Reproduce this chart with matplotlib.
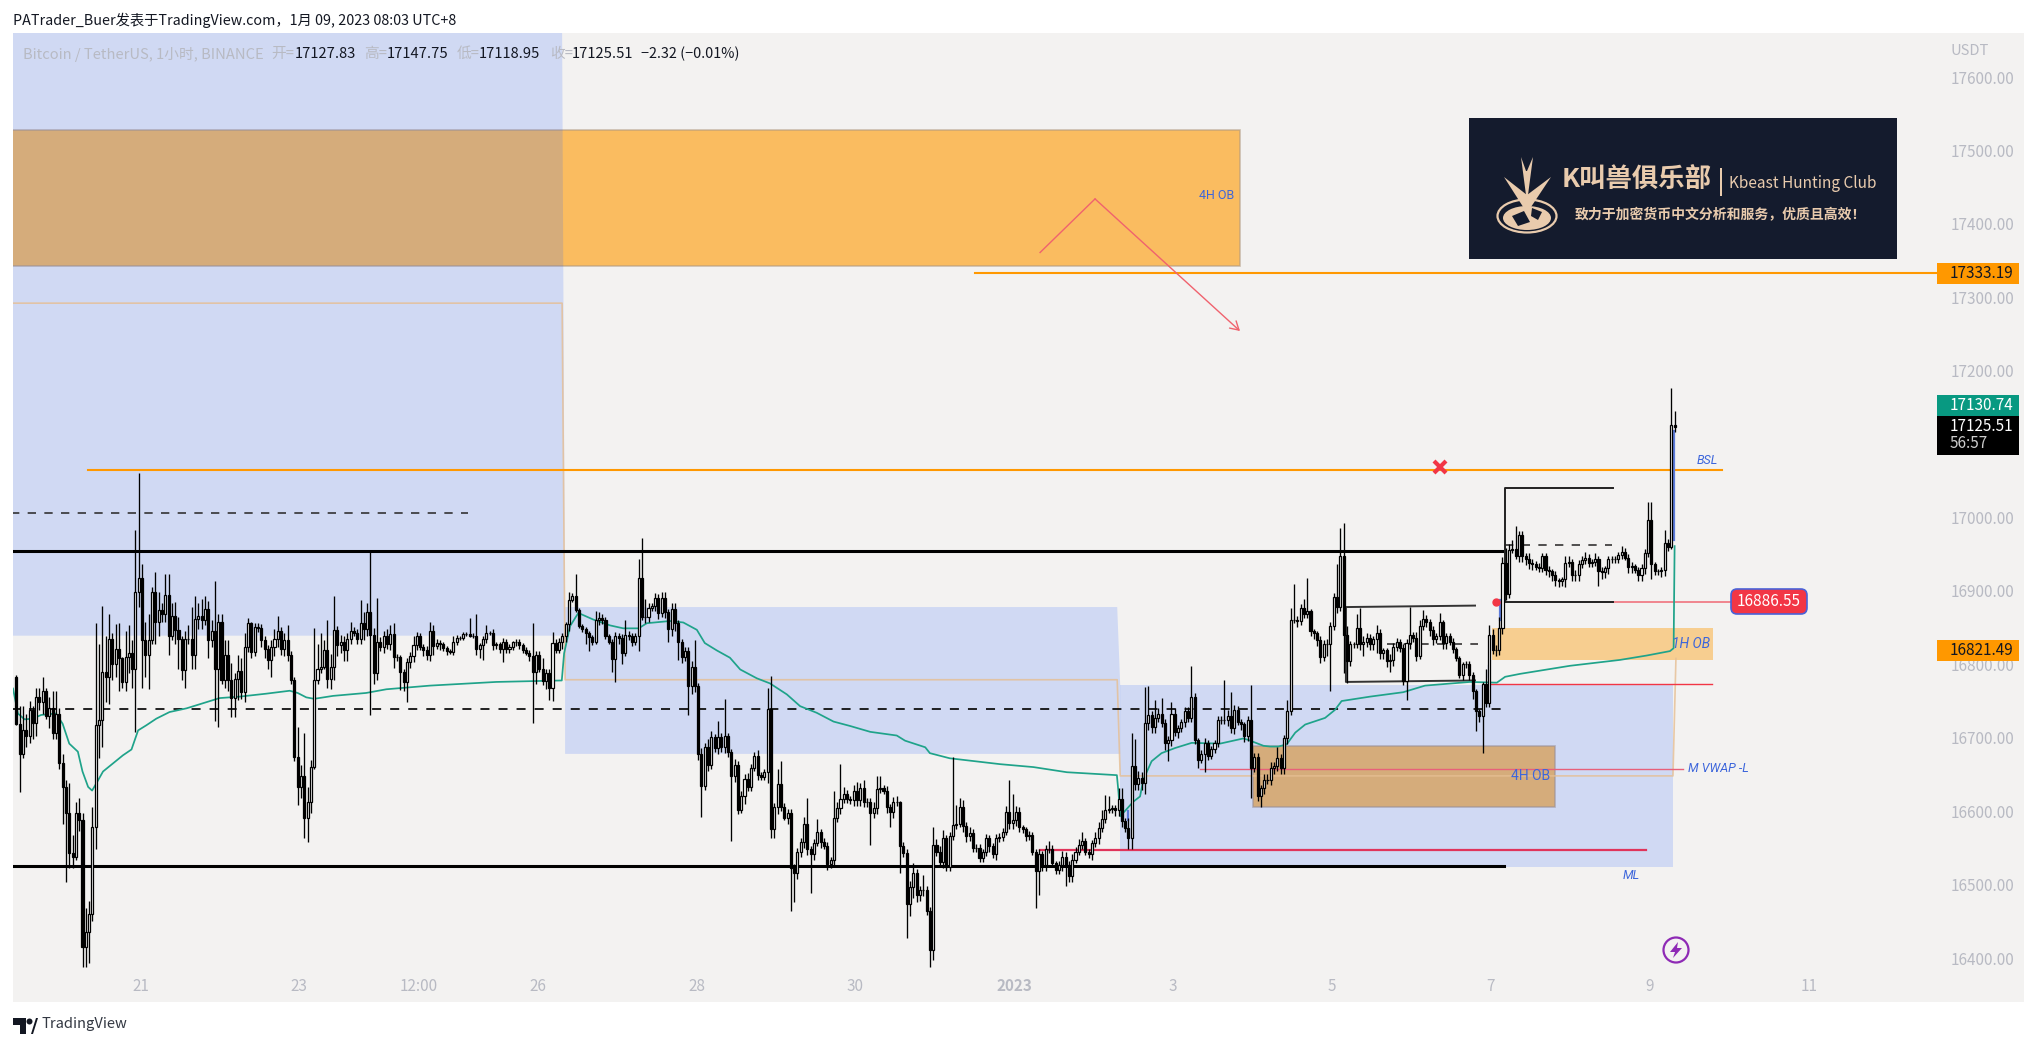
import matplotlib
matplotlib.use('Agg')
import matplotlib.pyplot as plt
from matplotlib.patches import Rectangle, Polygon, Ellipse, FancyBboxPatch
from matplotlib.transforms import ScaledTranslation
import numpy as np

plt.rcParams['font.family'] = ['Noto Sans CJK SC', 'DejaVu Sans']

W, H = 2037, 1046

first_open = 16785
closes = [
    16721, 16680, 16712, 16704, 16740, 16722, 16757, 16750, 16766, 16732,
    16743, 16708, 16734, 16667, 16635, 16599, 16545, 16540, 16599, 16590,
    16417, 16438, 16462, 16581, 16719, 16726, 16792, 16785, 16837, 16803,
    16823, 16811, 16778, 16812, 16817, 16795, 16900, 16919, 16835, 16815,
    16835, 16900, 16859, 16876, 16870, 16896, 16841, 16868, 16849, 16837,
    16794, 16836, 16837, 16815, 16864, 16868, 16862, 16878, 16835, 16847,
    16795, 16859, 16780, 16815, 16780, 16756, 16782, 16793, 16764, 16825,
    16858, 16819, 16853, 16852, 16835, 16823, 16808, 16825, 16837, 16848,
    16823, 16835, 16815, 16780, 16676, 16635, 16650, 16592, 16615, 16662,
    16781, 16795, 16798, 16822, 16782, 16798, 16849, 16828, 16832, 16821,
    16837, 16848, 16845, 16837, 16858, 16850, 16873, 16842, 16790, 16833,
    16825, 16840, 16830, 16843, 16812, 16812, 16792, 16778, 16805, 16813,
    16828, 16840, 16826, 16822, 16815, 16848,
    16827, 16831, 16830, 16824, 16820, 16819, 16833, 16838, 16838, 16843,
    16843, 16841, 16840, 16823, 16828, 16836, 16845, 16845, 16828, 16829,
    16823, 16833, 16823, 16826, 16832, 16833, 16828, 16822, 16818, 16813,
    16792, 16815, 16796, 16779, 16790, 16770, 16831, 16822, 16833, 16840,
    16857, 16890, 16895, 16876, 16854, 16850, 16845, 16839, 16833, 16863,
    16865, 16862, 16840, 16833, 16809, 16840, 16838, 16818, 16842, 16840,
    16833, 16840, 16920, 16867, 16866, 16879, 16881, 16892, 16872, 16892,
    16873, 16850, 16877, 16858, 16832, 16812, 16820, 16772, 16799, 16772,
    16680, 16636, 16690, 16665, 16703, 16688, 16703, 16689, 16705, 16682,
    16650, 16665, 16604, 16622, 16646, 16635, 16661, 16677, 16651, 16648,
    16655, 16741, 16578, 16608, 16639, 16608, 16592, 16600, 16525, 16518,
    16547, 16560, 16585, 16550, 16543, 16559, 16573, 16560, 16555, 16530,
    16535, 16592, 16606, 16618, 16625, 16618,
    16617, 16630, 16617, 16633, 16615, 16615, 16600, 16606, 16632, 16633,
    16630, 16608, 16601, 16615, 16615, 16554, 16545, 16475, 16499, 16518,
    16488, 16495, 16495, 16466, 16413, 16556, 16547, 16533, 16565, 16526,
    16568, 16583, 16585, 16607, 16582, 16568, 16572, 16552, 16552, 16538,
    16546, 16565, 16554, 16543, 16565, 16567, 16574, 16601, 16586, 16590,
    16601, 16580, 16577, 16568, 16570, 16547, 16520, 16543, 16529, 16550,
    16550, 16531, 16522, 16529, 16540, 16529, 16513, 16536, 16547, 16556,
    16561, 16547, 16543, 16558, 16565, 16579, 16591, 16604, 16605, 16606,
    16603, 16618, 16588, 16579, 16565, 16663, 16639, 16647, 16641, 16722,
    16733, 16717, 16729, 16735, 16722, 16695, 16699, 16734, 16710, 16715,
    16723, 16739, 16729, 16757, 16699, 16672, 16680, 16695, 16677, 16686,
    16695, 16726, 16726, 16726, 16732, 16715, 16740, 16724, 16721, 16704,
    16726, 16661, 16676, 16622, 16633, 16645, 16645, 16661, 16663, 16675,
    16661, 16702, 16738, 16863, 16863, 16861, 16879, 16870, 16875, 16847,
    16845, 16835, 16812, 16829, 16829, 16854, 16894, 16880, 16949, 16842,
    16806, 16829, 16829, 16851, 16829, 16833, 16838, 16829, 16836, 16845,
    16817, 16821, 16806, 16808, 16826, 16833, 16824, 16779, 16831, 16842,
    16838, 16814, 16854, 16864, 16859, 16849, 16836, 16840, 16859, 16831,
    16840, 16833, 16823, 16811, 16788, 16802, 16802, 16788, 16765, 16738,
    16731, 16775, 16749, 16842, 16822, 16821, 16851, 16940, 16898, 16958,
    16959, 16950, 16978, 16949, 16945, 16940, 16938, 16935, 16933, 16949,
    16931, 16929, 16924, 16917, 16915, 16918, 16940, 16941, 16924, 16923,
    16938, 16944, 16947, 16940, 16941, 16945, 16929, 16928, 16933, 16945,
    16945, 16945, 16951, 16955, 16947, 16935, 16936, 16931, 16924, 16933,
    16954, 16999, 16938, 16929, 16929, 16930, 16967, 16962, 17127.83, 17125.51,
]
upper_wick = [
    2, 24, 33, 23, 12, 5, 13, 13, 19, 4,
    15, 22, 31, 9, 13, 10, 41, 25, 16, 21,
    10, 32, 18, 27, 139, 104, 89, 48, 33, 8,
    34, 35, 1, 36, 38, 18, 85, 143, 19, 25,
    35, 8, 28, 24, 10, 29, 29, 17, 19, 18,
    3, 12, 19, 43, 31, 17, 23, 17, 10, 15,
    68, 11, 11, 20, 20, 24, 8, 22, 17, 20,
    7, 2, 5, 5, 5, 5, 5, 10, 13, 20,
    5, 10, 20, 5, 5, 41, 15, 58, 20, 10,
    71, 35, 47, 13, 40, 18, 46, 5, 10, 8,
    8, 12, 5, 5, 32, 15, 12, 82, 10, 59,
    6, 7, 10, 12, 15, 4, 3, 3, 5, 6,
    12, 6, 5, 4, 5, 12,
    7, 5, 4, 3, 3, 3, 7, 4, 2, 3,
    3, 22, 3, 30, 3, 5, 10, 3, 5, 3,
    3, 5, 3, 3, 2, 3, 3, 3, 3, 3,
    45, 5, 5, 14, 5, 5, 15, 5, 5, 5,
    3, 11, 4, 30, 3, 3, 3, 3, 3, 12,
    8, 5, 5, 3, 3, 6, 5, 5, 21, 5,
    5, 5, 26, 54, 24, 6, 5, 7, 6, 8,
    8, 5, 8, 8, 5, 5, 6, 5, 8, 36,
    4, 8, 5, 10, 8, 4, 22, 5, 50, 3,
    4, 8, 5, 8, 6, 8, 5, 5, 8, 4,
    4, 29, 45, 5, 21, 31, 5, 5, 5, 5,
    5, 5, 9, 35, 5, 5, 18, 5, 5, 5,
    4, 38, 8, 48, 10, 6,
    5, 8, 12, 8, 12, 5, 5, 8, 18, 17,
    5, 6, 4, 6, 8, 1, 6, 5, 8, 13,
    5, 5, 20, 5, 5, 25, 8, 8, 11, 5,
    5, 93, 25, 13, 10, 5, 8, 6, 5, 5,
    5, 6, 5, 5, 6, 5, 5, 8, 44, 36,
    8, 6, 3, 3, 5, 3, 3, 8, 5, 6,
    12, 6, 3, 5, 8, 6, 5, 8, 6, 8,
    13, 5, 3, 5, 8, 8, 12, 20, 18, 5,
    5, 15, 15, 5, 14, 45, 37, 10, 8, 49,
    40, 5, 25, 8, 21, 5, 5, 17, 8, 5,
    4, 5, 5, 43, 6, 3, 5, 6, 4, 5,
    4, 5, 5, 54, 8, 32, 6, 5, 3, 3,
    5, 48, 5, 5, 5, 8, 8, 8, 6, 15,
    5, 4, 16, 16, 48, 5, 5, 12, 45, 3,
    3, 3, 5, 6, 8, 5, 5, 44, 39, 45,
    12, 5, 3, 20, 28, 8, 6, 5, 5, 10,
    5, 3, 3, 8, 5, 5, 3, 5, 5, 38,
    4, 8, 8, 12, 5, 5, 5, 5, 13, 3,
    4, 5, 5, 3, 3, 3, 5, 5, 3, 3,
    3, 3, 20, 14, 8, 6, 15, 8, 20, 8,
    13, 31, 5, 5, 5, 8, 5, 5, 5, 5,
    5, 5, 3, 5, 3, 3, 10, 8, 5, 6,
    6, 6, 8, 5, 5, 8, 5, 5, 3, 5,
    4, 5, 4, 8, 5, 5, 5, 3, 3, 5,
    5, 24, 24, 4, 3, 4, 18, 6, 50, 19.92,
]
lower_wick = [
    1, 52, 5, 14, 9, 22, 17, 10, 15, 4,
    17, 8, 8, 7, 50, 94, 20, 15, 5, 15,
    27, 27, 43, 10, 31, 44, 36, 35, 37, 23,
    18, 46, 8, 13, 22, 25, 85, 20, 65, 30,
    47, 5, 29, 19, 10, 10, 26, 6, 19, 42,
    14, 24, 6, 20, 20, 14, 12, 7, 25, 10,
    70, 79, 5, 10, 15, 26, 26, 28, 9, 14,
    6, 9, 6, 6, 10, 13, 13, 23, 12, 12,
    8, 10, 8, 5, 6, 25, 15, 27, 32, 15,
    3, 6, 5, 3, 12, 14, 18, 15, 10, 15,
    14, 8, 5, 7, 8, 15, 10, 109, 15, 10,
    5, 8, 7, 8, 15, 6, 25, 13, 27, 8,
    8, 6, 5, 8, 7, 8,
    12, 4, 8, 4, 5, 3, 4, 5, 3, 3,
    3, 2, 2, 8, 13, 20, 5, 3, 6, 5,
    5, 18, 5, 5, 4, 5, 5, 4, 3, 6,
    70, 17, 5, 5, 11, 16, 18, 5, 5, 10,
    8, 10, 3, 3, 3, 4, 15, 19, 5, 3,
    8, 5, 3, 4, 17, 31, 8, 15, 5, 5,
    6, 5, 20, 5, 8, 6, 5, 6, 8, 5,
    8, 18, 10, 10, 24, 8, 6, 39, 10, 8,
    8, 42, 5, 8, 5, 5, 8, 6, 8, 6,
    89, 8, 6, 5, 10, 5, 5, 5, 6, 4,
    4, 15, 13, 12, 10, 6, 2, 8, 59, 40,
    8, 8, 8, 8, 53, 8, 5, 8, 5, 8,
    5, 6, 5, 8, 5, 5,
    5, 8, 8, 8, 8, 8, 44, 8, 8, 5,
    5, 8, 20, 8, 6, 36, 5, 46, 16, 15,
    10, 8, 8, 5, 23, 14, 6, 5, 8, 5,
    5, 5, 5, 5, 8, 8, 6, 6, 5, 5,
    5, 5, 8, 5, 8, 5, 5, 5, 8, 8,
    8, 6, 5, 6, 5, 5, 50, 32, 8, 8,
    5, 5, 5, 5, 8, 29, 8, 8, 5, 5,
    5, 5, 5, 8, 5, 8, 5, 5, 5, 5,
    8, 8, 7, 6, 15, 15, 8, 8, 10, 15,
    10, 8, 8, 6, 5, 10, 25, 8, 5, 8,
    5, 6, 5, 6, 5, 11, 5, 25, 6, 4,
    5, 5, 5, 5, 8, 6, 8, 5, 8, 8,
    6, 41, 6, 6, 14, 8, 6, 8, 8, 6,
    8, 8, 8, 5, 5, 8, 5, 5, 5, 6,
    8, 8, 8, 5, 15, 64, 5, 8, 5, 52,
    29, 6, 5, 5, 8, 15, 8, 8, 8, 18,
    8, 8, 8, 15, 8, 6, 5, 5, 25, 8,
    5, 8, 5, 5, 6, 8, 8, 5, 5, 8,
    8, 5, 5, 5, 5, 8, 5, 8, 10, 27,
    8, 50, 5, 5, 6, 8, 6, 8, 8, 5,
    5, 5, 8, 8, 8, 8, 8, 5, 5, 5,
    8, 8, 8, 8, 8, 6, 10, 5, 8, 8,
    8, 5, 5, 5, 5, 5, 20, 10, 8, 8,
    5, 5, 5, 5, 3, 8, 8, 5, 8, 8,
    8, 6, 20, 6, 5, 8, 8, 5, 3, 6.56,
]

vwap_bar = [
    -1, 0.5, 2.5, 5, 7.5, 12, 14, 16, 18.6, 20, 21.7, 22.9, 24.2, 26.2, 29.2, 32.2, 34.8, 36.8,
    39.3, 42.3, 46.3, 51.4, 56.4, 61.4, 67.5, 75.5, 82.6, 85, 87.6, 90, 95.7, 105.7, 111.8, 125,
    145, 164.8, 165.5, 167.3, 169.8, 174.3, 179.4, 183.4, 188, 190.5, 197.5, 201.5, 205.6, 208,
    211.6, 215.6, 218.7, 223.7, 227.7, 232.8, 236.8, 241.8, 246.9, 251.9, 258, 266, 268.5, 274.6,
    276, 282, 297.2, 307.3, 317.4, 332.5, 333, 333.5, 337.5, 339.5, 340.5, 343, 346, 350.1, 355.1,
    363.7, 370.7, 372.2, 376.8, 378.8, 381.3, 383.8, 386.4, 389.4, 395.4, 398.4, 400.4, 409, 419,
    425.6, 439.2, 447.3, 449.8, 454.3, 469.4, 484.5, 492.6, 499.6, 500.7, 501,
]
vwap_price = [
    16769, 16735, 16727, 16728, 16733, 16735, 16721, 16694, 16683, 16656, 16635, 16630, 16640, 16656, 16667, 16678, 16686, 16712,
    16719, 16728, 16737, 16742, 16749, 16756, 16758, 16762, 16766, 16763, 16757, 16755, 16759, 16763, 16768, 16773,
    16778, 16780, 16817, 16854, 16872, 16863, 16855, 16851, 16851, 16858, 16861, 16859, 16849, 16831,
    16821, 16811, 16795, 16783, 16776, 16761, 16745, 16736, 16724, 16718, 16710, 16705, 16698, 16689,
    16681, 16674, 16666, 16662, 16655, 16651, 16627, 16595, 16615, 16622, 16645, 16670, 16681, 16688, 16695,
    16694, 16701, 16699, 16691, 16690, 16690, 16693, 16709, 16720, 16729, 16740, 16752, 16758, 16764,
    16773, 16778, 16777, 16785, 16789, 16800, 16808, 16814, 16820, 16824, 16963,
]

tick_bars = [37.5, 85.5, 121.5, 157.5, 205.5, 253.5, 301.5, 349.5, 397.5, 445.5, 493.5, 541.5]
tick_labels = ['21', '23', '12:00', '26', '28', '30', '2023', '3', '5', '7', '9', '11']
price_ticks = [16400 + 100 * k for k in range(13)]

BG = '#F3F2F1'
BLUE = '#2962FF'
ORANGE = '#FF9800'
GREY = '#B8BAC3'
TEXT_BLUE = '#3D66DB'
RED = '#F23645'
LABEL_FONT = ['Roboto', 'DejaVu Sans']

# bar index and price <-> pixels of the screenshot: x = 16.3 + 3.31 i, y = 519 + (17000 - p) * 0.7345
fig = plt.figure(figsize=(W / 100, H / 100), dpi=100, facecolor='white')
ax = fig.add_axes([13 / W, 1 - 1002 / H, (2024 - 13) / W, (1002 - 33) / H], facecolor=BG)
ax.set_xlim((13 - 16.3) / 3.31, (2024 - 16.3) / 3.31)
ax.set_ylim(16342, 17662)
for s in ax.spines.values():
    s.set_visible(False)

ax.set_xticks(tick_bars)
ax.set_xticklabels(tick_labels)
ax.set_yticks(price_ticks)
ax.set_yticklabels(['%.2f' % p for p in price_ticks])
ax.yaxis.tick_right()
ax.tick_params(axis='x', length=0, pad=-17, labelsize=11, labelcolor=GREY)
ax.tick_params(axis='y', length=0, pad=-53, labelsize=11, labelcolor=GREY)
ax.get_xticklabels()[6].set_fontweight('bold')
# the price labels sit a pixel higher than the font's centre
nudge = ScaledTranslation(0, 1.4 / 100, fig.dpi_scale_trans)
for lab in ax.get_yticklabels():
    lab.set_transform(lab.get_transform() + nudge)


def zone(x0, x1, p0, p1, color, alpha, z, edge=None):
    ax.add_patch(Rectangle((x0, p0), x1 - x0, p1 - p0, facecolor=color, alpha=alpha, zorder=z,
                           edgecolor=edge if edge else 'none', linewidth=1.2 if edge else 0))


# order blocks first, the blue ranges go on top of them
zone(-1.5, 369.7, 17344.5, 17530, ORANGE, 0.6, 1, '#B09A80')
zone(373.6, 464.9, 16607, 16691, ORANGE, 0.6, 1, '#B09A80')
zone(445.8, 512.6, 16808, 16852, ORANGE, 0.4, 1)
ax.add_patch(Polygon([(-1.5, 17662), (164.9, 17662), (165.8, 16841), (-1.5, 16841)],
                     facecolor=BLUE, alpha=0.173, edgecolor='none', zorder=2))
ax.add_patch(Polygon([(165.8, 16880), (332.6, 16880), (333.5, 16774), (333.5, 16680), (165.8, 16680)],
                     facecolor=BLUE, alpha=0.173, edgecolor='none', zorder=2))
ax.add_patch(Polygon([(333.5, 16774), (500.5, 16774), (500.5, 16526), (333.5, 16526)],
                     facecolor=BLUE, alpha=0.173, edgecolor='none', zorder=2))

ax.plot([-1.5, 164.9, 165.8, 332.6, 333.5, 500.5, 501.4], [17294, 17294, 16781, 16781, 16650, 16650, 16810],
        color='#E6BE92', lw=1.2, alpha=0.8, zorder=3)

# levels
ax.plot([-1.5, 449], [16956, 16956], color='black', lw=2.2, zorder=4)
ax.plot([-1.5, 449.4], [16527, 16527], color='black', lw=2.2, zorder=4)
ax.plot([21.7, 515.3], [17066.5, 17066.5], color=ORANGE, lw=1.5, zorder=4)
ax.plot([289.6, 580.6], [17335, 17335], color=ORANGE, lw=1.5, zorder=4)
ax.plot([-1.5, 136.5], [17008, 17008], color='#333333', lw=1.2, dashes=(5, 5), zorder=4)
ax.plot([-1.5, 449.7], [16741, 16741], color='#111111', lw=1.3, dashes=(5, 5), zorder=4)
ax.plot([449.7, 482], [16965, 16965], color='#333333', lw=1.2, dashes=(5, 5), zorder=4)
ax.plot([414, 441.5], [16830, 16830], color='#333333', lw=1.2, dashes=(5, 5), zorder=4)
ax.plot([309.3, 492.4], [16549, 16549], color='#E0345A', lw=1.6, zorder=6)
ax.plot([357.6, 503.5], [16660, 16660], color='#E8607A', lw=1, zorder=6)
ax.plot([444.9, 512.3], [16775, 16775], color=RED, lw=1, zorder=4)
ax.plot([482.4, 517.7], [16886.55, 16886.55], color='#F0868F', lw=1.4, zorder=4)
ax.plot([482.4, 449.7, 449.7, 482.4], [17042, 17042, 16886.55, 16886.55], color='#222222', lw=1.4, zorder=4)
ax.plot([440.7, 401.7, 401.7, 440.7], [16882, 16880, 16778, 16780], color='#333333', lw=1.4, zorder=4)

# short sell sketch
ax.plot([309.3, 325.9], [17363, 17436], color='#F0626E', lw=1, zorder=4)
ax.annotate('', xy=(369.7, 17256), xytext=(325.9, 17436), zorder=4,
            arrowprops=dict(arrowstyle='->,head_length=0.6,head_width=0.35', color='#F0626E', lw=1,
                            shrinkA=0, shrinkB=0))

# candles
c = np.array(closes, dtype=float)
o = np.concatenate(([first_open], c[:-1]))
hi = np.maximum(o, c) + np.array(upper_wick)
lo = np.minimum(o, c) - np.array(lower_wick)
idx = np.arange(len(c))
ax.plot(vwap_bar, vwap_price, color='#1FA38A', lw=1.25, zorder=6)
ax.vlines(idx, lo, hi, color='black', lw=0.95, zorder=7)
ax.bar(idx, np.abs(c - o), bottom=np.minimum(o, c), width=0.62,
       color=['white' if cl >= op else 'black' for op, cl in zip(o, c)],
       edgecolor='black', linewidth=0.9, zorder=8)

# small blue highlights next to the impulsive bars
for b, p0, p1 in [(500.9, 16972, 17120), (448.2, 16862, 16890), (444.8, 16785, 16800), (336, 16590, 16602)]:
    ax.plot([b, b], [p0, p1], color='#5C7BD9', lw=1.6, zorder=6)

ax.plot([430], [17071], marker='x', ms=9, mew=3, color=RED, zorder=10)
ax.plot([447], [16887], marker='o', ms=5, color=RED, zorder=10)

# drawing labels
ax.text(368, 17440, '4H OB', color=TEXT_BLUE, fontsize=9, family=LABEL_FONT, ha='right', va='center', zorder=10)
ax.text(463.5, 16650, '4H OB', color=TEXT_BLUE, fontsize=10, family=LABEL_FONT, ha='right', va='center', zorder=10)
ax.text(506, 16830, '1H OB', color=TEXT_BLUE, fontsize=10, family=LABEL_FONT, style='italic', ha='center', va='center', zorder=10)
ax.text(511, 17080, 'BSL', color=TEXT_BLUE, fontsize=9, family=LABEL_FONT, style='italic', ha='center', va='center', zorder=10)
ax.text(505, 16660, 'M VWAP -L', color=TEXT_BLUE, fontsize=9, family=LABEL_FONT, style='italic', ha='left', va='center', zorder=10)
ax.text(488, 16514, 'ML', color=TEXT_BLUE, fontsize=9, family=LABEL_FONT, style='italic', ha='center', va='center', zorder=10)


def ftext(x, y, s, **kw):
    kw.setdefault('va', 'center')
    return fig.text(x / W, 1 - y / H, s, **kw)


def fbox(x0, y0, x1, y1, color, z=2):
    fig.add_artist(Rectangle((x0 / W, 1 - y1 / H), (x1 - x0) / W, (y1 - y0) / H, facecolor=color,
                             edgecolor='none', transform=fig.transFigure, zorder=z))


def fpoly(pts, color, z=4):
    fig.add_artist(Polygon([(x / W, 1 - y / H) for x, y in pts], closed=True, facecolor=color,
                           edgecolor='none', transform=fig.transFigure, zorder=z))


# header and legend
ftext(13, 20, 'PATrader_Buer发表于TradingView.com，1月 09, 2023 08:03 UTC+8', fontsize=10.3, color='#131722')
ftext(23, 54, 'Bitcoin / TetherUS, 1小时, BINANCE', fontsize=10.6, color=GREY)
for x_lab, lab, x_val, val in [(271, '开=', 295, '17127.83'), (364, '高=', 387, '17147.75'),
                               (457, '低=', 479, '17118.95'), (550, '收=', 572, '17125.51')]:
    ftext(x_lab, 54, lab, fontsize=10.6, color=GREY)
    ftext(x_val, 54, val, fontsize=10.6, color='#131722')
ftext(641, 54, '−2.32 (−0.01%)', fontsize=10.4, color='#131722')
ftext(1950, 51, 'USDT', fontsize=10.6, color=GREY)

# price scale labels
for y0, y1, col, txt, tc in [(263, 284, ORANGE, '17333.19', '#131722'), (395, 416, '#089981', '17130.74', 'white'),
                             (640, 661, ORANGE, '16821.49', '#131722')]:
    fbox(1937, y0, 2019, y1, col)
    ftext(1950, (y0 + y1) / 2, txt, fontsize=11, color=tc, zorder=5)
fbox(1937, 416, 2019, 455, 'black')
ftext(1950, 427, '17125.51', fontsize=11, color='white', zorder=5)
ftext(1950, 444, '56:57', fontsize=11, color='#CCCCCC', zorder=5)
fig.add_artist(FancyBboxPatch((1731 / W, 1 - 614 / H), 76 / W, 25 / H, boxstyle='round,pad=0,rounding_size=0.003',
                              mutation_aspect=2, facecolor=RED, edgecolor='#4A62D8', linewidth=1.2,
                              transform=fig.transFigure, zorder=3))
ftext(1769, 601.5, '16886.55', fontsize=11, color='white', ha='center', zorder=5)

# club banner
fbox(1469, 118, 1897, 259, '#141B2D')
TAN = '#E9CBAD'
ftext(1562, 180, 'K叫兽俱乐部', fontsize=19, color=TAN, fontweight='bold', zorder=5)
fbox(1719.5, 168, 1721.5, 196, TAN, z=5)
ftext(1729, 184, 'Kbeast Hunting Club', fontsize=11.1, color=TAN, fontweight='medium', zorder=5)
ftext(1575, 215, '致力于加密货币中文分析和服务，优质且高效！', fontsize=10, color=TAN, fontweight='bold', zorder=5)
fpoly([(1504, 177), (1527, 195), (1551, 177), (1527, 213)], TAN)
fpoly([(1521, 157), (1526, 171), (1527, 171), (1533, 157), (1528, 195), (1526, 195)], TAN)
fig.add_artist(Ellipse((1527 / W, 1 - 216 / H), 59 / W, 33 / H, facecolor='none', edgecolor=TAN, linewidth=1.6,
                       transform=fig.transFigure, zorder=4))
fig.add_artist(Ellipse((1527 / W, 1 - 218 / H), 48 / W, 24 / H, facecolor=TAN, edgecolor='none',
                       transform=fig.transFigure, zorder=4))
fpoly([(1512, 216), (1524, 211), (1530, 222), (1518, 226)], '#141B2D', z=5)
fpoly([(1532, 208), (1542, 212), (1538, 220), (1531, 216)], '#141B2D', z=5)

# lightning badge
fig.add_artist(Ellipse((1676 / W, 1 - 950 / H), 25 / W, 25 / H, facecolor='none', edgecolor='#8E2AB5', linewidth=1.6,
                       transform=fig.transFigure, zorder=4))
fpoly([(1678, 942), (1670, 952), (1675, 952), (1673, 958), (1682, 948), (1677, 948)], '#8E2AB5')

# TradingView mark
fpoly([(13, 1018), (26, 1018), (26, 1034), (20, 1034), (20, 1025), (13, 1025)], '#131722')
fig.add_artist(Ellipse((29.5 / W, 1 - 1021.5 / H), 6 / W, 6 / H, facecolor='#131722', edgecolor='none',
                       transform=fig.transFigure, zorder=4))
fpoly([(31, 1034), (36, 1018), (38, 1018), (33, 1034)], '#131722')
ftext(42, 1024, 'TradingView', fontsize=10.6, color='#333842')

plt.savefig('out.png', dpi=100, facecolor='white')
